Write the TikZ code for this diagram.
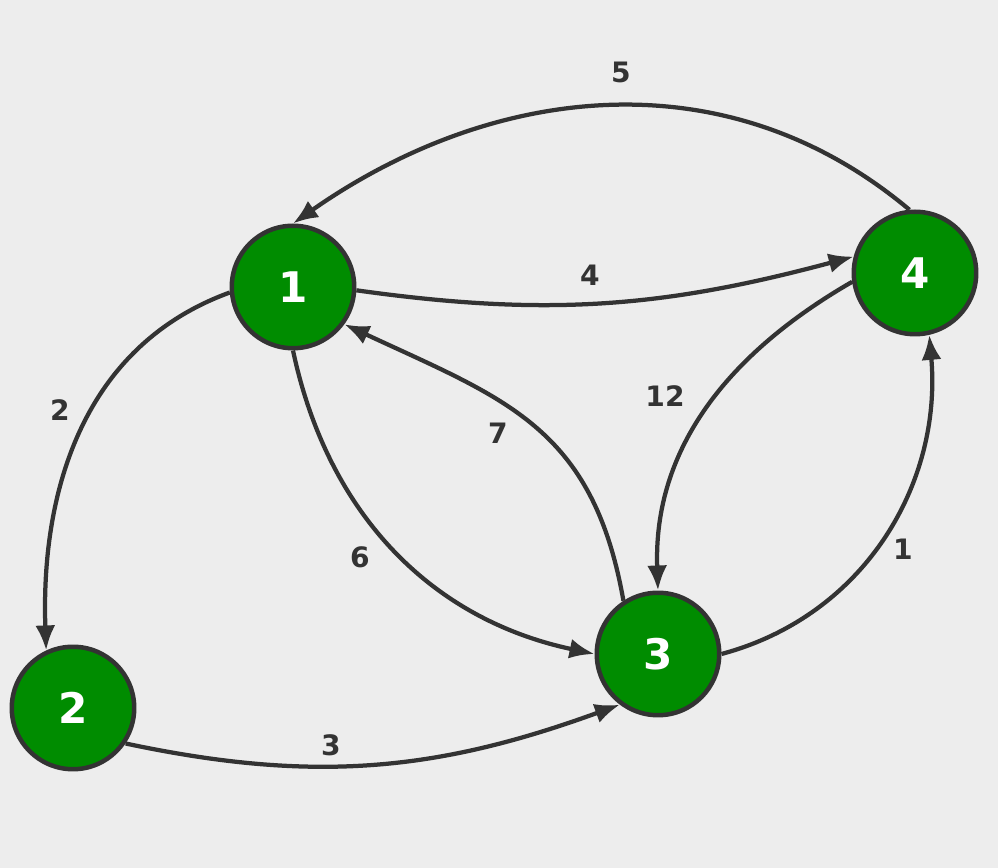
\documentclass[tikz,border=0pt]{standalone}
\usepackage{fontspec}
\setmainfont{DejaVu Sans}
\usetikzlibrary{arrows.meta}
\definecolor{bg}{HTML}{EDEDED}
\definecolor{gr}{HTML}{008C00}
\definecolor{dk}{HTML}{333333}
\begin{document}
\begin{tikzpicture}[x=0.02cm,y=0.02cm,
  vert/.style={circle,draw=dk,line width=0.09cm,fill=gr,minimum size=2.45cm,inner sep=0pt,text=white,font=\bfseries\fontsize{24}{28}\selectfont},
  edge/.style={draw=dk,line width=0.085cm,-{Latex[length=0.5cm,width=0.4cm]}},
  lab/.style={text=dk,font=\bfseries\fontsize{16}{19}\selectfont}]
\fill[bg] (0,0) rectangle (998,868);
\useasboundingbox (0,0) rectangle (998,868);
\node[vert] (n1) at (293,581) {1};
\node[vert] (n2) at (73,160) {2};
\node[vert] (n3) at (658,214) {3};
\node[vert] (n4) at (915,595) {4};
\draw[edge] (n4.95) to[out=140,in=35] (n1.90);
\draw[edge] (n1.-3) to[out=-8,in=195] (n4.165);
\draw[edge] (n1.185) to[out=200,in=92] (n2.115);
\draw[edge] (n1.-90) to[out=-78,in=168] (n3.180);
\draw[edge] (n3.123) to[out=100,in=-25,looseness=1.15] (n1.-36);
\draw[edge] (n4.188) to[out=210,in=92] (n3.90);
\draw[edge] (n3.0) to[out=15,in=-85] (n4.-77);
\draw[edge] (n2.-34) to[out=-12,in=200] (n3.-127);
\node[lab] (l5) at (621,796) {5};
\node[lab] (l4) at (590,593) {4};
\node[lab] (l2) at (60,458) {2};
\node[lab] (l6) at (360,311) {6};
\node[lab] (l7) at (498,435) {7};
\node[lab] (l12) at (665,472) {12};
\node[lab] (l1) at (903,319) {1};
\node[lab] (l3) at (331,123) {3};
\end{tikzpicture}
\end{document}
